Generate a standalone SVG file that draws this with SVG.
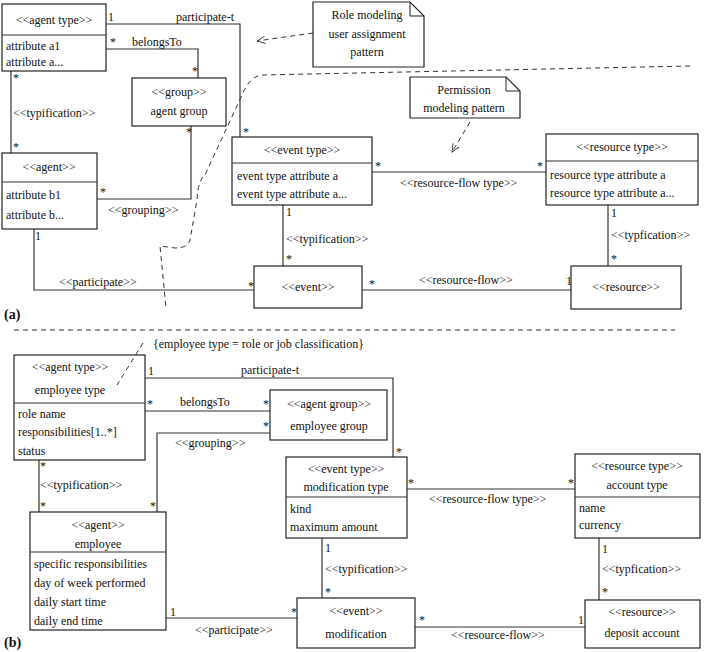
<svg xmlns="http://www.w3.org/2000/svg" width="710" height="652" viewBox="0 0 710 652">
<defs>
<style>
text{font-family:"Liberation Serif",serif;font-size:12px;fill:#111}
.c{text-anchor:middle}
.b{font-weight:bold;font-size:14px}
rect,.box{fill:#fff;stroke:#222;stroke-width:1.2}
line,polyline{stroke:#333;stroke-width:1.2;fill:none}
.d{stroke:#333;stroke-dasharray:5,4;fill:none;stroke-width:1}
</style>
<marker id="ar" viewBox="0 0 10 10" refX="9" refY="5" markerWidth="9" markerHeight="9" orient="auto"><path d="M0,1 L9,5 L0,9" fill="none" stroke="#333"/></marker>
</defs>
<rect width="710" height="652" style="stroke:none;fill:#fff"/>
<g id="connectors">
<polyline points="106,24 240,24 240,137"/>
<polyline points="106,49 198,49 198,78"/>
<polyline points="191,126 191,199 97,199"/>
<line x1="11" y1="71" x2="11" y2="153"/>
<polyline points="34,229 34,290 254,290"/>
<line x1="283" y1="205" x2="283" y2="266"/>
<line x1="372" y1="172" x2="546" y2="172"/>
<line x1="608" y1="205" x2="608" y2="266"/>
<line x1="362" y1="290" x2="571" y2="290"/>
<polyline points="145,378 393,378 393,457"/>
<line x1="145" y1="411" x2="270" y2="411"/>
<polyline points="270,433 157,433 157,512"/>
<line x1="39" y1="460" x2="39" y2="512"/>
<line x1="166" y1="618" x2="297" y2="618"/>
<line x1="322" y1="538" x2="322" y2="598"/>
<line x1="407" y1="489" x2="575" y2="489"/>
<line x1="599" y1="538" x2="599" y2="600"/>
<line x1="415" y1="627" x2="585" y2="627"/>
<path class="d" d="M313,33 L257,41" marker-end="url(#ar)"/>
<path class="d" d="M470,122 L452,152" marker-end="url(#ar)"/>
<path class="d" d="M690,66 L262,75 Q250,76 242,95 L205,175 Q198,180 197,200 L190,240 Q188,248 175,248 L160,246 L166,308"/>
<line class="d" x1="14" y1="330" x2="675" y2="330"/>
<g>
<text x="108" y="21">1</text><text x="176" y="21">participate-t</text><text x="243" y="136">*</text>
<text x="110" y="46">*</text><text x="132" y="46">belongsTo</text><text x="192" y="75">*</text>
<text x="186" y="136">*</text><text x="100" y="196">*</text><text x="108" y="214">&lt;&lt;grouping&gt;&gt;</text>
<text x="13" y="82">*</text><text x="13" y="117">&lt;&lt;typification&gt;&gt;</text><text x="13" y="151">*</text>
<text x="35" y="240">1</text><text x="59" y="286">&lt;&lt;participate&gt;&gt;</text><text x="248" y="290">*</text>
<text x="286" y="216">1</text><text x="286" y="243">&lt;&lt;typification&gt;&gt;</text><text x="286" y="263">*</text>
<text x="375" y="170">*</text><text x="400" y="187">&lt;&lt;resource-flow type&gt;&gt;</text><text x="537" y="170">*</text>
<text x="611" y="217">1</text><text x="611" y="239">&lt;&lt;typfication&gt;&gt;</text><text x="611" y="263">*</text>
<text x="369" y="288">*</text><text x="419" y="284">&lt;&lt;resource-flow&gt;&gt;</text><text x="566" y="285">1</text>
<text x="148" y="375">1</text><text x="241" y="374">participate-t</text><text x="396" y="456">*</text>
<text x="147" y="408">*</text><text x="180" y="406">belongsTo</text><text x="263" y="408">*</text>
<text x="263" y="430">*</text><text x="175" y="447">&lt;&lt;grouping&gt;&gt;</text><text x="150" y="510">*</text>
<text x="40" y="470">*</text><text x="40" y="489">&lt;&lt;typification&gt;&gt;</text><text x="40" y="510">*</text>
<text x="170" y="616">1</text><text x="195" y="634">&lt;&lt;participate&gt;&gt;</text><text x="291" y="616">*</text>
<text x="325" y="552">1</text><text x="325" y="573">&lt;&lt;typification&gt;&gt;</text><text x="325" y="596">*</text>
<text x="408" y="487">*</text><text x="429" y="503">&lt;&lt;resource-flow type&gt;&gt;</text><text x="568" y="487">*</text>
<text x="602" y="553">1</text><text x="602" y="573">&lt;&lt;typfication&gt;&gt;</text><text x="602" y="596">*</text>
<text x="419" y="624">*</text><text x="451" y="639">&lt;&lt;resource-flow&gt;&gt;</text><text x="578" y="624">1</text>
</g>
</g>
<g id="n-agenttype"><rect x="2" y="4" width="104" height="67"/><line x1="2" y1="35" x2="106" y2="35"/>
<text class="c" x="54" y="24">&lt;&lt;agent type&gt;&gt;</text><text x="6" y="50">attribute a1</text><text x="6" y="66">attribute a...</text></g>
<g id="n-group"><rect x="132" y="78" width="94" height="48"/><text class="c" x="179" y="96">&lt;&lt;group&gt;&gt;</text><text class="c" x="179" y="115">agent group</text></g>
<g id="n-agent"><rect x="2" y="153" width="95" height="76"/><line x1="2" y1="182" x2="97" y2="182"/>
<text class="c" x="49" y="171">&lt;&lt;agent&gt;&gt;</text><text x="6" y="199">attribute b1</text><text x="6" y="219">attribute b...</text></g>
<g id="n-eventtype"><rect x="232" y="137" width="140" height="68"/><line x1="232" y1="163" x2="372" y2="163"/>
<text class="c" x="302" y="154">&lt;&lt;event type&gt;&gt;</text><text x="237" y="180">event type attribute a</text><text x="237" y="198">event type attribute a...</text></g>
<g id="n-event"><rect x="254" y="266" width="108" height="42"/><text class="c" x="308" y="291">&lt;&lt;event&gt;&gt;</text></g>
<g id="n-restype"><rect x="546" y="134" width="152" height="71"/><line x1="546" y1="161" x2="698" y2="161"/>
<text class="c" x="622" y="151">&lt;&lt;resource type&gt;&gt;</text><text x="550" y="179">resource type attribute a</text><text x="550" y="197">resource type attribute a...</text></g>
<g id="n-resource"><rect x="571" y="266" width="110" height="43"/><text class="c" x="626" y="291">&lt;&lt;resource&gt;&gt;</text></g>
<g id="note1"><path class="box" d="M313,2 H410 L424,16 V67 H313 Z"/><path d="M410,2 V16 H424" fill="none" stroke="#222"/>
<text class="c" x="367" y="19">Role modeling</text><text class="c" x="367" y="38">user assignment</text><text class="c" x="367" y="56">pattern</text></g>
<g id="note2"><path class="box" d="M410,77 H506 L520,91 V118 H410 Z"/><path d="M506,77 V91 H520" fill="none" stroke="#222"/>
<text class="c" x="464" y="94">Permission</text><text class="c" x="464" y="112">modeling pattern</text></g>
<text class="b" x="4" y="319">(a)</text>
<text x="153" y="348">{employee type = role or job classification}</text>
<g id="n-employeetype"><rect x="14" y="355" width="131" height="105"/><line x1="14" y1="403" x2="145" y2="403"/>
<text class="c" x="70" y="371">&lt;&lt;agent type&gt;&gt;</text><text class="c" x="70" y="394">employee type</text>
<text x="18" y="418">role name</text><text x="18" y="436">responsibilities[1..*]</text><text x="18" y="455">status</text></g>
<g id="n-empgroup"><rect x="270" y="390" width="117" height="50"/><text class="c" x="329" y="408">&lt;&lt;agent group&gt;&gt;</text><text class="c" x="329" y="430">employee group</text></g>
<g id="n-employee"><rect x="30" y="512" width="136" height="118"/><line x1="30" y1="552" x2="166" y2="552"/>
<text class="c" x="98" y="529">&lt;&lt;agent&gt;&gt;</text><text class="c" x="98" y="548">employee</text>
<text x="34" y="568">specific responsibilities</text><text x="34" y="587">day of week performed</text><text x="34" y="606">daily start time</text><text x="34" y="625">daily end time</text></g>
<g id="n-modtype"><rect x="286" y="457" width="121" height="81"/><line x1="286" y1="497" x2="407" y2="497"/>
<text class="c" x="346" y="473">&lt;&lt;event type&gt;&gt;</text><text class="c" x="346" y="491">modification type</text>
<text x="290" y="513">kind</text><text x="290" y="531">maximum amount</text></g>
<g id="n-modification"><rect x="297" y="598" width="118" height="50"/><text class="c" x="356" y="615">&lt;&lt;event&gt;&gt;</text><text class="c" x="356" y="638">modification</text></g>
<g id="n-accounttype"><rect x="575" y="454" width="125" height="84"/><line x1="575" y1="497" x2="700" y2="497"/>
<text class="c" x="637" y="470">&lt;&lt;resource type&gt;&gt;</text><text class="c" x="637" y="489">account type</text>
<text x="579" y="512">name</text><text x="579" y="529">currency</text></g>
<g id="n-deposit"><rect x="585" y="600" width="115" height="48"/><text class="c" x="642" y="616">&lt;&lt;resource&gt;&gt;</text><text class="c" x="642" y="637">deposit account</text></g>
<text class="b" x="4" y="647">(b)</text>
<g id="constraint-link"><line class="d" x1="143" y1="343" x2="117" y2="385"/></g>
</svg>
